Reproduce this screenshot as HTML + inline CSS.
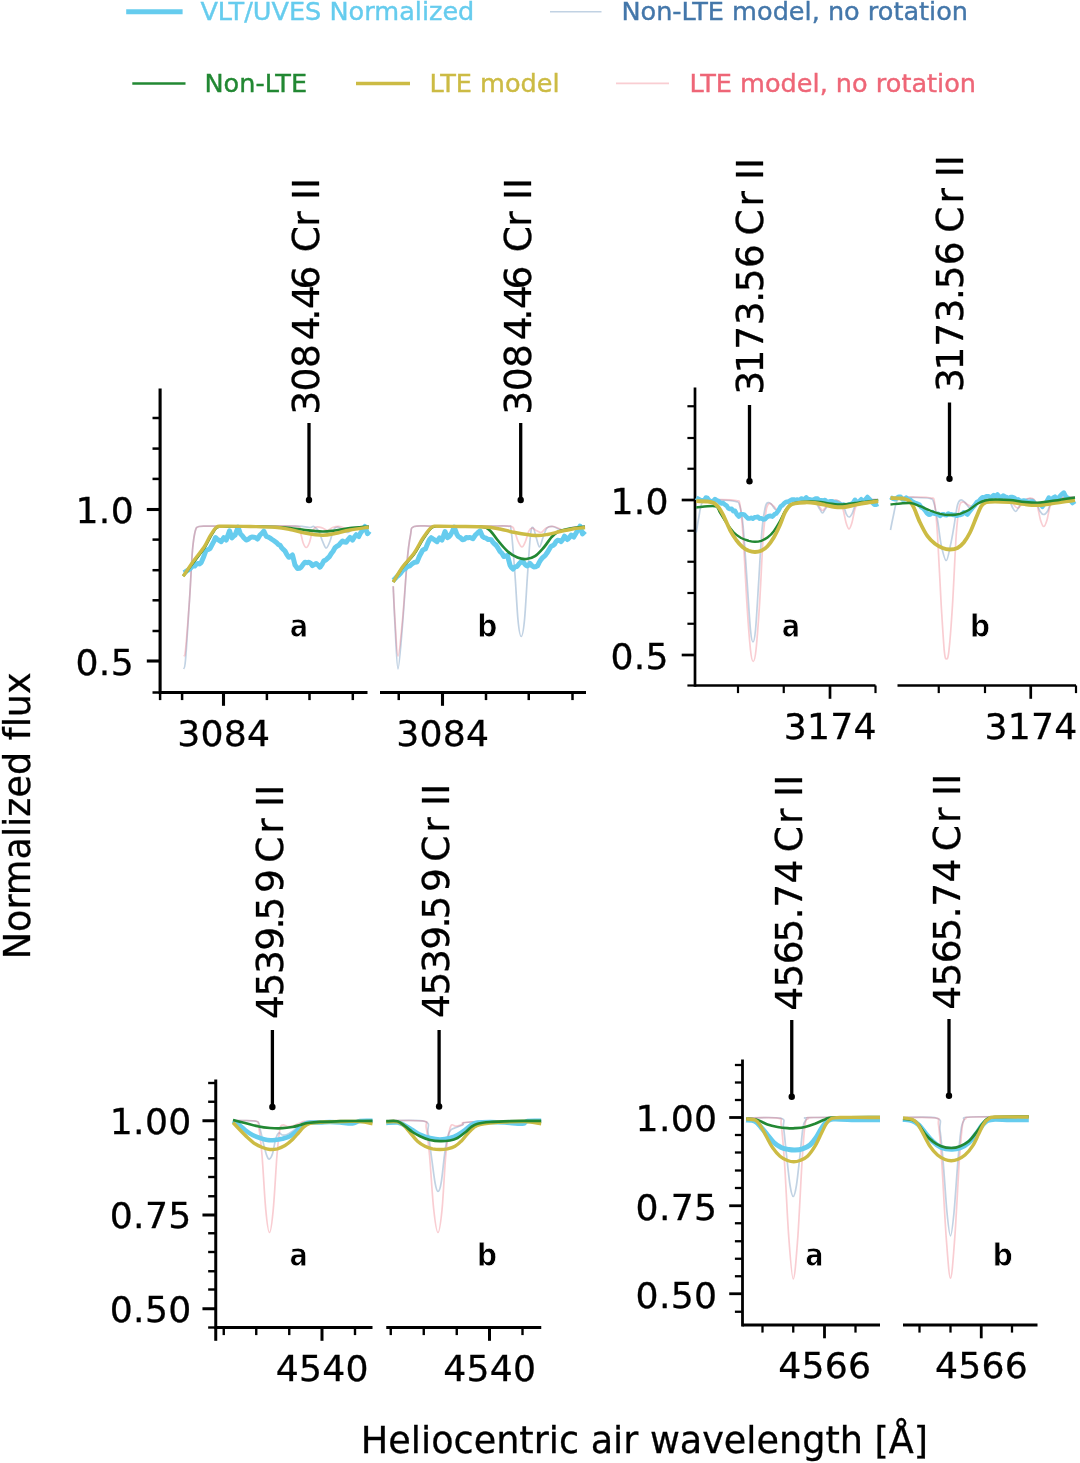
<!DOCTYPE html>
<html lang="en"><head><meta charset="utf-8"><title>Cr II line fits</title>
<style>html,body{margin:0;padding:0;background:#fff}svg{display:block}text{font-variant-ligatures:none}</style>
</head><body>
<svg width="1080" height="1463" viewBox="0 0 1080 1463">
<rect width="1080" height="1463" fill="#fff"/>
<line x1="126.20" y1="11.80" x2="182.60" y2="11.80" stroke="#66CCEE" stroke-width="5" stroke-linecap="butt"/>
<text x="200.40" y="20.00" font-family="DejaVu Sans, Liberation Sans, sans-serif" font-size="25.55" fill="#66CCEE" stroke="#66CCEE" stroke-width="0.4" text-anchor="start">VLT/UVES Normalized</text>
<line x1="550" y1="11.8" x2="601.5" y2="11.8" stroke="#4477AA" stroke-width="1.6" stroke-opacity="0.33"/>
<text x="621.40" y="20.00" font-family="DejaVu Sans, Liberation Sans, sans-serif" font-size="25.55" fill="#4477AA" stroke="#4477AA" stroke-width="0.4" text-anchor="start">Non-LTE model, no rotation</text>
<line x1="132.30" y1="83.40" x2="185.50" y2="83.40" stroke="#228833" stroke-width="2.5" stroke-linecap="butt"/>
<text x="204.50" y="92.00" font-family="DejaVu Sans, Liberation Sans, sans-serif" font-size="25.55" fill="#228833" stroke="#228833" stroke-width="0.4" text-anchor="start">Non-LTE</text>
<line x1="356.00" y1="83.40" x2="410.00" y2="83.40" stroke="#CCBB44" stroke-width="3.5" stroke-linecap="butt"/>
<text x="429.50" y="92.00" font-family="DejaVu Sans, Liberation Sans, sans-serif" font-size="25.55" fill="#CCBB44" stroke="#CCBB44" stroke-width="0.4" text-anchor="start">LTE model</text>
<line x1="616" y1="83.4" x2="669" y2="83.4" stroke="#EE6677" stroke-width="1.6" stroke-opacity="0.33"/>
<text x="689.50" y="92.00" font-family="DejaVu Sans, Liberation Sans, sans-serif" font-size="25.55" fill="#EE6677" stroke="#EE6677" stroke-width="0.4" text-anchor="start">LTE model, no rotation</text>
<text x="30.40" y="815.80" font-family="DejaVu Sans, Liberation Sans, sans-serif" font-size="36.6" fill="#000" stroke="#000" stroke-width="0.3" text-anchor="middle" transform="rotate(-90 30.40 815.80)">Normalized flux</text>
<text x="644.50" y="1452.50" font-family="DejaVu Sans, Liberation Sans, sans-serif" font-size="36.6" fill="#000" stroke="#000" stroke-width="0.3" text-anchor="middle">Heliocentric air wavelength [Å]</text>
<line x1="160.10" y1="388.40" x2="160.10" y2="694.05" stroke="#000" stroke-width="3.1" stroke-linecap="butt"/>
<line x1="146.80" y1="509.50" x2="160.10" y2="509.50" stroke="#000" stroke-width="3.1" stroke-linecap="butt"/>
<line x1="146.80" y1="661.00" x2="160.10" y2="661.00" stroke="#000" stroke-width="3.1" stroke-linecap="butt"/>
<line x1="152.50" y1="418.00" x2="160.10" y2="418.00" stroke="#000" stroke-width="2.5" stroke-linecap="butt"/>
<line x1="152.50" y1="448.60" x2="160.10" y2="448.60" stroke="#000" stroke-width="2.5" stroke-linecap="butt"/>
<line x1="152.50" y1="478.90" x2="160.10" y2="478.90" stroke="#000" stroke-width="2.5" stroke-linecap="butt"/>
<line x1="152.50" y1="539.60" x2="160.10" y2="539.60" stroke="#000" stroke-width="2.5" stroke-linecap="butt"/>
<line x1="152.50" y1="570.20" x2="160.10" y2="570.20" stroke="#000" stroke-width="2.5" stroke-linecap="butt"/>
<line x1="152.50" y1="600.30" x2="160.10" y2="600.30" stroke="#000" stroke-width="2.5" stroke-linecap="butt"/>
<line x1="152.50" y1="631.00" x2="160.10" y2="631.00" stroke="#000" stroke-width="2.5" stroke-linecap="butt"/>
<line x1="152.50" y1="692.50" x2="160.10" y2="692.50" stroke="#000" stroke-width="2.5" stroke-linecap="butt"/>
<text x="134.00" y="523.30" font-family="DejaVu Sans, Liberation Sans, sans-serif" font-size="36.2" fill="#000" stroke="#000" stroke-width="0.3" text-anchor="end" letter-spacing="0.3">1.0</text>
<text x="134.00" y="674.80" font-family="DejaVu Sans, Liberation Sans, sans-serif" font-size="36.2" fill="#000" stroke="#000" stroke-width="0.3" text-anchor="end" letter-spacing="0.3">0.5</text>
<line x1="160.10" y1="692.50" x2="367.50" y2="692.50" stroke="#000" stroke-width="3.1" stroke-linecap="butt"/>
<line x1="223.50" y1="692.50" x2="223.50" y2="705.80" stroke="#000" stroke-width="3.1" stroke-linecap="butt"/>
<line x1="160.10" y1="692.50" x2="160.10" y2="700.10" stroke="#000" stroke-width="2.5" stroke-linecap="butt"/>
<line x1="182.10" y1="692.50" x2="182.10" y2="700.10" stroke="#000" stroke-width="2.5" stroke-linecap="butt"/>
<line x1="266.90" y1="692.50" x2="266.90" y2="700.10" stroke="#000" stroke-width="2.5" stroke-linecap="butt"/>
<line x1="309.50" y1="692.50" x2="309.50" y2="700.10" stroke="#000" stroke-width="2.5" stroke-linecap="butt"/>
<line x1="352.80" y1="692.50" x2="352.80" y2="700.10" stroke="#000" stroke-width="2.5" stroke-linecap="butt"/>
<text x="223.80" y="745.80" font-family="DejaVu Sans, Liberation Sans, sans-serif" font-size="36.2" fill="#000" stroke="#000" stroke-width="0.3" text-anchor="middle" letter-spacing="0.3">3084</text>
<line x1="380.00" y1="692.50" x2="586.00" y2="692.50" stroke="#000" stroke-width="3.1" stroke-linecap="butt"/>
<line x1="442.50" y1="692.50" x2="442.50" y2="705.80" stroke="#000" stroke-width="3.1" stroke-linecap="butt"/>
<line x1="398.75" y1="692.50" x2="398.75" y2="700.10" stroke="#000" stroke-width="2.5" stroke-linecap="butt"/>
<line x1="486.00" y1="692.50" x2="486.00" y2="700.10" stroke="#000" stroke-width="2.5" stroke-linecap="butt"/>
<line x1="528.75" y1="692.50" x2="528.75" y2="700.10" stroke="#000" stroke-width="2.5" stroke-linecap="butt"/>
<line x1="572.50" y1="692.50" x2="572.50" y2="700.10" stroke="#000" stroke-width="2.5" stroke-linecap="butt"/>
<text x="442.80" y="745.80" font-family="DejaVu Sans, Liberation Sans, sans-serif" font-size="36.2" fill="#000" stroke="#000" stroke-width="0.3" text-anchor="middle" letter-spacing="0.3">3084</text>
<path d="M183.8,668.8 C184.0,667.3 184.5,671.5 185.5,660.0 C186.5,648.5 188.3,618.3 189.5,600.0 C190.7,581.7 191.5,561.5 192.5,550.0 C193.5,538.5 194.2,535.2 195.2,531.2 C196.3,527.3 196.1,527.3 199.0,526.5 C201.9,525.7 204.0,526.3 212.5,526.2 C221.0,526.2 236.0,526.2 250.0,526.2 C264.0,526.2 286.2,526.0 296.2,526.2 C306.2,526.5 307.1,527.5 310.0,527.5 C312.9,527.5 312.3,525.9 313.8,526.5 C315.2,527.1 317.3,528.8 318.8,531.2 C320.2,533.7 321.2,538.5 322.5,541.2 C323.8,544.0 325.0,548.0 326.2,548.0 C327.5,548.0 328.8,544.3 330.0,541.2 C331.2,538.2 332.5,531.9 333.8,529.5 C335.0,527.1 336.0,527.0 337.5,527.0 C339.0,527.0 340.8,528.6 342.5,529.5 C344.2,530.4 345.8,532.5 347.5,532.5 C349.2,532.5 350.4,530.4 352.5,529.5 C354.6,528.6 357.3,527.5 360.0,527.0 C362.7,526.5 367.3,526.4 368.8,526.2" fill="none" stroke="#4477AA" stroke-width="1.7" stroke-opacity="0.33" stroke-linejoin="round" stroke-linecap="butt"/>
<path d="M183.8,656.2 C184.0,655.2 184.5,659.4 185.5,650.0 C186.5,640.6 188.3,616.7 189.5,600.0 C190.7,583.3 191.5,561.5 192.5,550.0 C193.5,538.5 194.2,535.2 195.2,531.2 C196.3,527.3 196.1,527.3 199.0,526.5 C201.9,525.7 204.0,526.3 212.5,526.2 C221.0,526.2 236.2,526.2 250.0,526.2 C263.8,526.2 286.7,525.4 295.0,526.2 C303.3,527.1 298.7,528.5 300.0,531.2 C301.3,534.0 302.0,539.8 303.0,542.5 C304.0,545.2 305.2,547.5 306.2,547.5 C307.3,547.5 308.5,545.2 309.5,542.5 C310.5,539.8 311.4,533.8 312.5,531.2 C313.6,528.7 314.6,527.5 316.2,527.0 C317.9,526.5 320.6,527.4 322.5,528.0 C324.4,528.6 325.8,530.6 327.5,530.5 C329.2,530.4 330.4,528.2 332.5,527.5 C334.6,526.8 337.5,526.2 340.0,526.5 C342.5,526.8 345.4,529.2 347.5,529.5 C349.6,529.8 350.4,528.4 352.5,528.0 C354.6,527.6 357.3,527.3 360.0,527.0 C362.7,526.7 367.3,526.4 368.8,526.2" fill="none" stroke="#EE6677" stroke-width="1.7" stroke-opacity="0.33" stroke-linejoin="round" stroke-linecap="butt"/>
<path d="M183.8,572.8 L185.3,572.0 L186.9,570.7 L188.4,570.0 L190.0,568.8 L191.6,567.1 L193.1,565.9 L194.7,566.0 L196.2,564.3 L197.9,563.5 L199.6,563.9 L201.2,562.5 L203.8,556.5 L206.2,550.0 L208.1,549.6 L210.0,548.5 L212.5,543.8 L214.0,541.1 L215.5,537.5 L217.1,539.1 L218.8,540.1 L221.2,541.7 L223.8,537.7 L226.2,540.1 L227.9,535.3 L229.5,530.9 L232.0,537.8 L233.5,536.2 L235.0,535.2 L236.5,531.5 L238.0,527.1 L240.5,534.0 L242.1,535.5 L243.8,537.7 L246.2,540.0 L248.1,539.4 L250.0,537.8 L251.9,536.9 L253.8,537.2 L255.6,537.7 L257.5,539.1 L260.0,535.0 L261.9,533.3 L263.8,531.1 L266.2,536.3 L268.1,537.0 L270.0,537.9 L271.7,539.2 L273.3,540.3 L275.0,541.5 L276.7,542.8 L278.3,544.4 L280.0,545.2 L281.7,547.8 L283.3,549.4 L285.0,551.0 L286.9,554.6 L288.8,557.3 L290.6,556.6 L292.5,555.0 L295.0,565.1 L297.5,568.5 L299.4,568.3 L301.2,567.1 L303.1,564.4 L305.0,562.2 L306.9,562.7 L308.8,562.3 L310.6,563.2 L312.5,565.7 L314.4,564.5 L316.2,563.5 L318.1,565.1 L320.0,567.2 L321.9,564.6 L323.8,560.9 L325.6,560.2 L327.5,558.4 L329.4,556.6 L331.2,553.6 L333.1,551.2 L335.0,547.8 L336.9,546.3 L338.8,545.3 L340.6,542.9 L342.5,541.0 L344.4,542.0 L346.2,542.2 L348.1,539.6 L350.0,537.4 L352.5,540.1 L354.4,537.0 L356.2,534.7 L358.8,536.5 L360.6,532.9 L362.5,530.3 L365.0,526.5 L367.5,533.7 L369.5,531.2" fill="none" stroke="#66CCEE" stroke-width="5.0" stroke-linejoin="round" stroke-linecap="butt"/>
<path d="M183.2,576.2 C184.8,574.2 189.1,568.3 192.5,563.8 C195.9,559.2 200.8,553.1 203.8,548.8 C206.7,544.4 207.9,541.0 210.0,537.5 C212.1,534.0 214.2,529.8 216.2,528.0 C218.3,526.2 216.9,526.8 222.5,526.5 C228.1,526.2 241.2,526.4 250.0,526.5 C258.8,526.6 268.3,526.8 275.0,527.0 C281.7,527.2 285.0,527.5 290.0,528.0 C295.0,528.5 299.6,529.4 305.0,530.0 C310.4,530.6 317.5,531.4 322.5,531.5 C327.5,531.6 330.4,531.0 335.0,530.5 C339.6,530.0 344.4,528.9 350.0,528.2 C355.6,527.6 365.6,526.8 368.8,526.5" fill="none" stroke="#228833" stroke-width="2.7" stroke-linejoin="round" stroke-linecap="butt"/>
<path d="M183.2,576.2 C184.8,574.0 189.1,567.3 192.5,562.5 C195.9,557.7 200.8,551.9 203.8,547.5 C206.7,543.1 207.9,539.6 210.0,536.2 C212.1,532.9 214.2,529.2 216.2,527.5 C218.3,525.8 216.9,526.4 222.5,526.2 C228.1,526.1 241.2,526.3 250.0,526.5 C258.8,526.7 268.3,526.8 275.0,527.2 C281.7,527.8 285.0,528.5 290.0,529.5 C295.0,530.5 299.6,532.0 305.0,533.0 C310.4,534.0 317.5,535.2 322.5,535.2 C327.5,535.3 330.4,534.4 335.0,533.5 C339.6,532.6 344.4,531.0 350.0,530.0 C355.6,529.0 365.6,527.7 368.8,527.2" fill="none" stroke="#CCBB44" stroke-width="3.4" stroke-linejoin="round" stroke-linecap="butt"/>
<line x1="309.00" y1="423.00" x2="309.00" y2="500.00" stroke="#000" stroke-width="3.3" stroke-linecap="butt"/>
<circle cx="309.00" cy="500.00" r="3.2" fill="#000"/>
<text x="319.30 342.73 366.16 393.80 413.63 425.09 444.62 469.35 481.82 507.38 522.54 534.20 545.11" y="414.80" font-family="DejaVu Sans, Liberation Sans, sans-serif" font-size="37.6" fill="#000" stroke="#000" stroke-width="0.3" transform="rotate(-90 319.30 414.80)">3084.46 Cr II</text>
<text transform="translate(299.00 637.30) scale(0.97 1)" font-family="DejaVu Sans Condensed, DejaVu Sans, Liberation Sans, sans-serif" font-weight="bold" font-size="31.3" fill="#000" stroke="#fff" stroke-width="0.8" text-anchor="middle">a</text>
<path d="M393.2,586.2 C393.5,592.7 394.2,611.2 395.0,625.0 C395.8,638.8 396.8,668.8 398.0,668.8 C399.2,668.8 401.0,642.7 402.5,625.0 C404.0,607.3 405.7,577.5 407.0,562.5 C408.3,547.5 409.3,541.0 410.5,535.0 C411.7,529.0 410.2,528.0 414.2,526.5 C418.3,525.0 423.2,526.3 435.0,526.2 C446.8,526.2 472.9,526.2 485.0,526.2 C497.1,526.2 503.1,525.4 507.5,526.2 C511.9,527.1 510.0,523.1 511.2,531.2 C512.5,539.4 513.9,560.2 515.0,575.0 C516.1,589.8 517.0,609.8 518.0,620.0 C519.0,630.2 520.2,636.5 521.2,636.5 C522.3,636.5 523.5,630.2 524.5,620.0 C525.5,609.8 526.5,589.2 527.5,575.0 C528.5,560.8 529.6,542.9 530.5,535.0 C531.4,527.1 532.0,527.1 533.0,527.5 C534.0,527.9 535.2,534.2 536.2,537.5 C537.3,540.8 538.4,547.0 539.5,547.0 C540.6,547.0 541.8,540.7 543.0,537.5 C544.2,534.3 545.4,529.8 547.0,528.0 C548.6,526.2 550.3,526.2 552.5,526.5 C554.7,526.8 557.9,528.7 560.0,529.5 C562.1,530.3 563.1,531.6 565.0,531.2 C566.9,530.9 567.9,528.3 571.2,527.5 C574.6,526.7 582.7,526.5 585.0,526.2" fill="none" stroke="#4477AA" stroke-width="1.7" stroke-opacity="0.33" stroke-linejoin="round" stroke-linecap="butt"/>
<path d="M393.2,586.2 C393.5,591.9 394.2,608.3 395.0,620.0 C395.8,631.7 396.8,656.2 398.0,656.2 C399.2,656.2 401.0,635.6 402.5,620.0 C404.0,604.4 405.7,576.7 407.0,562.5 C408.3,548.3 409.3,541.0 410.5,535.0 C411.7,529.0 410.2,528.0 414.2,526.5 C418.3,525.0 423.2,526.3 435.0,526.2 C446.8,526.2 472.5,526.2 485.0,526.2 C497.5,526.2 505.1,525.4 510.0,526.2 C514.9,527.1 513.2,528.8 514.5,531.2 C515.8,533.8 516.8,538.6 518.0,541.2 C519.2,543.9 520.8,547.0 522.0,547.0 C523.2,547.0 524.4,543.9 525.5,541.2 C526.6,538.6 527.7,533.5 528.8,531.2 C529.8,529.0 530.8,528.1 532.0,528.0 C533.2,527.9 534.7,529.8 536.2,530.5 C537.8,531.2 539.6,532.9 541.2,532.5 C542.9,532.1 544.2,529.0 546.2,528.0 C548.3,527.0 551.2,526.2 553.8,526.5 C556.2,526.8 559.2,528.7 561.2,529.5 C563.3,530.3 564.4,531.6 566.2,531.2 C568.1,530.9 569.4,528.3 572.5,527.5 C575.6,526.7 582.9,526.5 585.0,526.2" fill="none" stroke="#EE6677" stroke-width="1.7" stroke-opacity="0.33" stroke-linejoin="round" stroke-linecap="butt"/>
<path d="M393.2,580.3 L395.1,578.7 L396.9,576.7 L398.8,575.1 L400.3,573.6 L401.9,571.3 L403.4,569.6 L405.0,569.0 L406.7,567.3 L408.3,566.2 L410.0,565.8 L411.9,564.0 L413.8,562.7 L415.4,562.2 L417.0,562.1 L419.5,556.0 L421.0,553.3 L422.5,550.3 L424.0,549.4 L425.5,548.9 L428.0,542.6 L429.6,539.4 L431.2,537.7 L432.9,538.9 L434.5,539.9 L437.0,541.7 L439.5,537.8 L442.0,540.0 L443.5,535.9 L445.0,531.5 L447.5,537.6 L449.0,536.8 L450.5,534.9 L452.4,531.4 L454.2,527.0 L456.8,534.1 L458.1,536.2 L459.5,537.2 L461.0,538.2 L462.5,539.8 L464.4,539.4 L466.2,537.5 L468.1,537.7 L470.0,537.4 L471.5,538.1 L473.0,538.7 L475.5,534.9 L477.0,533.6 L478.5,532.1 L480.0,530.8 L482.5,536.4 L484.4,537.7 L486.2,538.2 L487.9,539.4 L489.6,539.6 L491.2,539.8 L492.9,542.2 L494.6,544.0 L496.2,545.3 L498.1,548.2 L500.0,551.4 L501.9,553.3 L503.8,556.5 L505.6,556.0 L507.5,555.3 L510.0,565.2 L511.5,567.6 L513.0,569.1 L515.0,566.9 L517.0,566.5 L518.8,564.2 L520.5,562.3 L522.1,562.2 L523.8,562.7 L525.4,564.9 L527.0,565.9 L528.5,565.2 L530.0,563.4 L531.9,565.7 L533.8,566.9 L535.6,566.8 L537.5,565.8 L539.0,562.8 L540.5,560.3 L542.1,558.2 L543.8,556.7 L545.6,554.9 L547.5,552.2 L549.4,549.0 L551.2,546.2 L552.9,545.5 L554.5,544.3 L556.0,541.6 L557.5,540.3 L559.4,540.4 L561.2,541.6 L562.9,539.3 L564.5,536.2 L566.0,537.8 L567.5,539.5 L569.4,537.5 L571.2,535.1 L573.8,537.0 L575.4,534.3 L577.0,531.6 L578.5,528.8 L580.0,526.2 L582.5,533.9 L585.0,531.2" fill="none" stroke="#66CCEE" stroke-width="5.0" stroke-linejoin="round" stroke-linecap="butt"/>
<path d="M393.2,582.0 C394.8,579.6 399.1,572.1 402.5,567.5 C405.9,562.9 410.4,559.1 413.8,554.5 C417.1,549.9 419.6,544.4 422.5,540.0 C425.4,535.6 428.8,530.2 431.2,528.0 C433.8,525.8 432.7,526.8 437.5,526.5 C442.3,526.2 452.5,526.4 460.0,526.5 C467.5,526.6 477.5,526.3 482.5,527.0 C487.5,527.7 487.5,528.3 490.0,530.5 C492.5,532.7 494.6,536.5 497.5,540.0 C500.4,543.5 504.2,548.3 507.5,551.2 C510.8,554.2 514.4,556.2 517.5,557.5 C520.6,558.8 523.3,559.2 526.2,559.0 C529.2,558.8 532.1,558.2 535.0,556.2 C537.9,554.3 541.0,550.6 543.8,547.5 C546.5,544.4 549.0,540.1 551.2,537.5 C553.5,534.9 554.8,533.4 557.5,532.0 C560.2,530.6 562.9,529.9 567.5,529.0 C572.1,528.1 582.1,527.1 585.0,526.8" fill="none" stroke="#228833" stroke-width="2.7" stroke-linejoin="round" stroke-linecap="butt"/>
<path d="M393.2,582.0 C394.8,579.5 399.1,571.8 402.5,567.0 C405.9,562.2 410.4,558.2 413.8,553.5 C417.1,548.8 419.6,543.1 422.5,538.8 C425.4,534.4 428.8,529.6 431.2,527.5 C433.8,525.4 432.7,526.4 437.5,526.2 C442.3,526.1 452.1,526.4 460.0,526.5 C467.9,526.6 478.3,526.6 485.0,527.0 C491.7,527.4 495.0,528.1 500.0,529.0 C505.0,529.9 509.2,531.4 515.0,532.5 C520.8,533.6 529.6,535.2 535.0,535.5 C540.4,535.8 543.3,535.2 547.5,534.5 C551.7,533.8 555.8,532.4 560.0,531.5 C564.2,530.6 568.3,529.7 572.5,529.0 C576.7,528.3 582.9,527.8 585.0,527.5" fill="none" stroke="#CCBB44" stroke-width="3.4" stroke-linejoin="round" stroke-linecap="butt"/>
<line x1="520.70" y1="423.00" x2="520.70" y2="500.00" stroke="#000" stroke-width="3.3" stroke-linecap="butt"/>
<circle cx="520.70" cy="500.00" r="3.2" fill="#000"/>
<text x="531.40 554.83 578.26 605.90 625.73 637.19 656.72 681.45 693.92 719.48 734.64 746.30 757.21" y="414.80" font-family="DejaVu Sans, Liberation Sans, sans-serif" font-size="37.6" fill="#000" stroke="#000" stroke-width="0.3" transform="rotate(-90 531.40 414.80)">3084.46 Cr II</text>
<text transform="translate(487.30 637.10) scale(0.98 1)" font-family="DejaVu Sans Condensed, DejaVu Sans, Liberation Sans, sans-serif" font-weight="bold" font-size="32.3" fill="#000" stroke="#fff" stroke-width="0.8" text-anchor="middle">b</text>
<line x1="695.00" y1="387.50" x2="695.00" y2="686.85" stroke="#000" stroke-width="2.7" stroke-linecap="butt"/>
<line x1="681.70" y1="500.00" x2="695.00" y2="500.00" stroke="#000" stroke-width="2.7" stroke-linecap="butt"/>
<line x1="681.70" y1="655.00" x2="695.00" y2="655.00" stroke="#000" stroke-width="2.7" stroke-linecap="butt"/>
<line x1="687.40" y1="406.25" x2="695.00" y2="406.25" stroke="#000" stroke-width="2.2" stroke-linecap="butt"/>
<line x1="687.40" y1="438.00" x2="695.00" y2="438.00" stroke="#000" stroke-width="2.2" stroke-linecap="butt"/>
<line x1="687.40" y1="468.75" x2="695.00" y2="468.75" stroke="#000" stroke-width="2.2" stroke-linecap="butt"/>
<line x1="687.40" y1="530.75" x2="695.00" y2="530.75" stroke="#000" stroke-width="2.2" stroke-linecap="butt"/>
<line x1="687.40" y1="561.75" x2="695.00" y2="561.75" stroke="#000" stroke-width="2.2" stroke-linecap="butt"/>
<line x1="687.40" y1="593.00" x2="695.00" y2="593.00" stroke="#000" stroke-width="2.2" stroke-linecap="butt"/>
<line x1="687.40" y1="623.75" x2="695.00" y2="623.75" stroke="#000" stroke-width="2.2" stroke-linecap="butt"/>
<line x1="687.40" y1="685.50" x2="695.00" y2="685.50" stroke="#000" stroke-width="2.2" stroke-linecap="butt"/>
<text x="668.90" y="513.80" font-family="DejaVu Sans, Liberation Sans, sans-serif" font-size="36.2" fill="#000" stroke="#000" stroke-width="0.3" text-anchor="end" letter-spacing="0.3">1.0</text>
<text x="668.90" y="668.80" font-family="DejaVu Sans, Liberation Sans, sans-serif" font-size="36.2" fill="#000" stroke="#000" stroke-width="0.3" text-anchor="end" letter-spacing="0.3">0.5</text>
<line x1="695.00" y1="685.50" x2="875.50" y2="685.50" stroke="#000" stroke-width="2.7" stroke-linecap="butt"/>
<line x1="830.00" y1="685.50" x2="830.00" y2="698.80" stroke="#000" stroke-width="2.7" stroke-linecap="butt"/>
<line x1="738.00" y1="685.50" x2="738.00" y2="693.10" stroke="#000" stroke-width="2.2" stroke-linecap="butt"/>
<line x1="783.75" y1="685.50" x2="783.75" y2="693.10" stroke="#000" stroke-width="2.2" stroke-linecap="butt"/>
<line x1="875.50" y1="685.50" x2="875.50" y2="693.10" stroke="#000" stroke-width="2.2" stroke-linecap="butt"/>
<text x="830.30" y="738.80" font-family="DejaVu Sans, Liberation Sans, sans-serif" font-size="36.2" fill="#000" stroke="#000" stroke-width="0.3" text-anchor="middle" letter-spacing="0.3">3174</text>
<line x1="897.50" y1="685.50" x2="1076.00" y2="685.50" stroke="#000" stroke-width="2.7" stroke-linecap="butt"/>
<line x1="1030.75" y1="685.50" x2="1030.75" y2="698.80" stroke="#000" stroke-width="2.7" stroke-linecap="butt"/>
<line x1="938.75" y1="685.50" x2="938.75" y2="693.10" stroke="#000" stroke-width="2.2" stroke-linecap="butt"/>
<line x1="985.00" y1="685.50" x2="985.00" y2="693.10" stroke="#000" stroke-width="2.2" stroke-linecap="butt"/>
<line x1="1076.00" y1="685.50" x2="1076.00" y2="693.10" stroke="#000" stroke-width="2.2" stroke-linecap="butt"/>
<text x="1031.05" y="738.80" font-family="DejaVu Sans, Liberation Sans, sans-serif" font-size="36.2" fill="#000" stroke="#000" stroke-width="0.3" text-anchor="middle" letter-spacing="0.3">3174</text>
<path d="M696.2,532.5 C696.7,530.0 697.9,522.1 698.8,517.5 C699.6,512.9 700.2,507.8 701.2,505.0 C702.3,502.2 701.9,501.3 705.0,500.5 C708.1,499.7 714.9,499.8 720.0,500.0 C725.1,500.2 732.2,500.7 735.5,501.5 C738.8,502.3 738.2,501.1 739.5,505.0 C740.8,508.9 741.8,512.5 743.0,525.0 C744.2,537.5 745.8,562.5 747.0,580.0 C748.2,597.5 749.5,619.7 750.5,630.0 C751.5,640.3 752.2,642.0 753.0,642.0 C753.8,642.0 754.5,640.3 755.5,630.0 C756.5,619.7 757.7,596.7 758.8,580.0 C759.8,563.3 760.9,542.3 762.0,530.0 C763.1,517.7 764.4,510.8 765.5,506.2 C766.6,501.7 767.7,502.7 768.8,502.5 C769.8,502.3 770.8,503.8 772.0,505.0 C773.2,506.2 774.7,510.0 776.2,510.0 C777.8,510.0 779.4,506.6 781.2,505.0 C783.1,503.4 783.5,501.3 787.5,500.5 C791.5,499.7 800.4,499.8 805.0,500.0 C809.6,500.2 812.6,500.5 815.0,502.0 C817.4,503.5 818.2,506.9 819.5,508.8 C820.8,510.6 821.5,513.0 822.5,513.0 C823.5,513.0 824.2,510.5 825.5,508.8 C826.8,507.0 828.0,503.9 830.0,502.5 C832.0,501.1 835.3,500.1 837.5,500.5 C839.7,500.9 841.5,502.8 843.0,505.0 C844.5,507.2 845.2,511.8 846.2,513.8 C847.2,515.8 848.0,517.0 849.0,517.0 C850.0,517.0 850.9,515.8 852.0,513.8 C853.1,511.8 854.0,507.2 855.5,505.0 C857.0,502.8 857.5,501.4 861.2,500.5 C865.0,499.6 875.4,499.7 878.2,499.5" fill="none" stroke="#4477AA" stroke-width="1.7" stroke-opacity="0.33" stroke-linejoin="round" stroke-linecap="butt"/>
<path d="M696.2,500.0 C700.2,499.9 713.3,499.4 720.0,499.5 C726.7,499.6 732.9,499.6 736.2,500.5 C739.6,501.4 738.9,499.2 740.0,505.0 C741.1,510.8 741.8,518.3 743.0,535.0 C744.2,551.7 745.8,585.8 747.0,605.0 C748.2,624.2 749.5,640.6 750.5,650.0 C751.5,659.4 752.3,661.5 753.2,661.5 C754.2,661.5 755.0,659.4 756.0,650.0 C757.0,640.6 758.3,623.3 759.5,605.0 C760.7,586.7 761.9,555.8 763.0,540.0 C764.1,524.2 765.2,516.1 766.2,510.0 C767.3,503.9 768.2,504.1 769.5,503.5 C770.8,502.9 772.4,505.2 773.8,506.2 C775.1,507.3 776.1,510.2 777.5,510.0 C778.9,509.8 780.3,506.6 782.0,505.0 C783.7,503.4 783.7,501.3 787.5,500.5 C791.3,499.7 800.2,499.8 805.0,500.0 C809.8,500.2 813.8,500.8 816.2,502.0 C818.8,503.2 819.0,506.1 820.0,507.5 C821.0,508.9 821.6,510.5 822.5,510.5 C823.4,510.5 824.2,508.9 825.5,507.5 C826.8,506.1 828.0,503.2 830.0,502.0 C832.0,500.8 835.4,499.6 837.5,500.5 C839.6,501.4 841.1,503.8 842.5,507.5 C843.9,511.2 844.9,518.9 846.0,522.5 C847.1,526.1 848.0,529.0 849.0,529.0 C850.0,529.0 850.9,526.1 852.0,522.5 C853.1,518.9 854.0,511.2 855.5,507.5 C857.0,503.8 857.5,501.8 861.2,500.5 C865.0,499.2 875.4,499.7 878.2,499.5" fill="none" stroke="#EE6677" stroke-width="1.7" stroke-opacity="0.33" stroke-linejoin="round" stroke-linecap="butt"/>
<path d="M696.2,497.6 L697.8,498.7 L699.4,499.4 L700.9,500.3 L702.5,500.3 L704.2,500.3 L705.8,497.6 L707.5,498.0 L709.4,500.6 L711.2,501.4 L713.1,501.3 L715.0,499.1 L716.7,500.4 L718.3,500.9 L720.0,502.5 L721.7,503.5 L723.3,503.1 L725.0,504.7 L726.7,505.8 L728.3,508.4 L730.0,509.0 L731.7,508.8 L733.3,511.1 L735.0,510.9 L736.9,514.4 L738.8,516.6 L740.6,514.3 L742.5,514.2 L744.4,514.7 L746.2,516.7 L747.9,518.4 L749.6,518.5 L751.2,517.8 L752.9,518.7 L754.6,517.4 L756.2,517.2 L757.9,516.7 L759.6,518.6 L761.2,518.2 L763.1,519.4 L765.0,519.2 L766.9,517.1 L768.8,516.1 L770.6,515.9 L772.5,516.6 L774.4,514.4 L776.2,513.5 L778.8,510.1 L780.6,506.4 L782.5,505.2 L784.4,503.1 L786.2,501.8 L788.1,502.0 L790.0,500.5 L791.9,499.6 L793.8,499.5 L795.6,500.2 L797.5,499.5 L799.4,500.5 L801.2,498.5 L802.9,499.2 L804.6,499.1 L806.2,497.5 L808.1,499.4 L810.0,499.4 L811.9,499.9 L813.8,499.5 L815.6,498.5 L817.5,498.6 L819.4,500.8 L821.2,500.2 L823.1,500.6 L825.0,500.0 L826.9,501.7 L828.8,501.8 L830.6,501.3 L832.5,501.3 L834.4,502.7 L836.2,502.6 L838.1,503.9 L840.0,504.1 L841.9,505.2 L843.8,504.5 L845.6,506.2 L847.5,505.1 L849.4,504.3 L851.2,503.9 L853.1,502.8 L855.0,499.8 L857.5,503.0 L859.4,501.1 L861.2,499.3 L863.8,502.3 L865.6,499.3 L867.5,497.0 L870.0,499.6 L872.5,502.7 L874.4,504.8 L876.2,504.6 L878.2,503.8" fill="none" stroke="#66CCEE" stroke-width="4.6" stroke-linejoin="round" stroke-linecap="butt"/>
<path d="M696.2,507.5 C699.4,507.3 711.0,505.4 715.0,506.2 C719.0,507.1 718.1,509.8 720.0,512.5 C721.9,515.2 724.0,519.2 726.2,522.5 C728.5,525.8 731.2,529.9 733.8,532.5 C736.2,535.1 738.8,536.6 741.2,538.0 C743.8,539.4 746.5,540.1 748.8,540.8 C751.0,541.4 752.9,541.8 755.0,541.8 C757.1,541.8 759.2,541.5 761.2,540.8 C763.3,540.0 765.4,539.1 767.5,537.5 C769.6,535.9 771.7,534.0 773.8,531.2 C775.8,528.5 778.1,524.6 780.0,521.2 C781.9,517.9 783.3,514.0 785.0,511.2 C786.7,508.5 788.3,506.4 790.0,505.0 C791.7,503.6 791.7,503.6 795.0,503.0 C798.3,502.4 805.8,501.7 810.0,501.5 C814.2,501.3 815.8,501.5 820.0,502.0 C824.2,502.5 830.8,503.9 835.0,504.2 C839.2,504.6 841.7,504.5 845.0,504.2 C848.3,504.0 851.7,503.4 855.0,503.0 C858.3,502.6 861.1,502.2 865.0,501.8 C868.9,501.2 876.0,500.3 878.2,500.0" fill="none" stroke="#228833" stroke-width="2.4" stroke-linejoin="round" stroke-linecap="butt"/>
<path d="M696.2,501.2 C698.1,501.3 704.6,501.2 707.5,501.5 C710.4,501.8 711.9,502.0 713.8,503.0 C715.6,504.0 717.1,505.3 718.8,507.5 C720.4,509.7 721.9,512.5 723.8,516.2 C725.6,520.0 727.9,526.0 730.0,530.0 C732.1,534.0 734.2,537.2 736.2,540.0 C738.3,542.8 740.4,545.2 742.5,547.0 C744.6,548.8 746.7,549.9 748.8,550.8 C750.8,551.6 752.9,552.0 755.0,552.0 C757.1,552.0 759.2,551.7 761.2,550.8 C763.3,549.8 765.4,548.5 767.5,546.2 C769.6,544.0 771.7,541.0 773.8,537.5 C775.8,534.0 778.1,529.2 780.0,525.0 C781.9,520.8 783.3,515.8 785.0,512.5 C786.7,509.2 788.3,507.0 790.0,505.5 C791.7,504.0 792.5,504.0 795.0,503.5 C797.5,503.0 801.7,502.6 805.0,502.5 C808.3,502.4 811.7,502.6 815.0,503.0 C818.3,503.4 821.7,504.3 825.0,505.0 C828.3,505.7 831.7,506.7 835.0,507.0 C838.3,507.3 841.7,507.3 845.0,507.0 C848.3,506.7 851.7,505.7 855.0,505.0 C858.3,504.3 861.1,503.6 865.0,503.0 C868.9,502.4 876.0,501.5 878.2,501.2" fill="none" stroke="#CCBB44" stroke-width="3.8" stroke-linejoin="round" stroke-linecap="butt"/>
<line x1="749.50" y1="405.00" x2="749.50" y2="481.25" stroke="#000" stroke-width="3.3" stroke-linecap="butt"/>
<circle cx="749.50" cy="481.25" r="3.2" fill="#000"/>
<text transform="translate(791.00 637.10) scale(0.97 1)" font-family="DejaVu Sans Condensed, DejaVu Sans, Liberation Sans, sans-serif" font-weight="bold" font-size="31.3" fill="#000" stroke="#fff" stroke-width="0.8" text-anchor="middle">a</text>
<path d="M890.5,530.0 C890.9,527.9 892.0,522.0 893.0,517.5 C894.0,513.0 895.1,506.2 896.2,503.0 C897.4,499.8 896.9,498.9 900.0,498.0 C903.1,497.1 910.0,497.4 915.0,497.5 C920.0,497.6 926.9,497.7 930.0,498.5 C933.1,499.3 932.5,498.9 933.8,502.5 C935.0,506.1 936.2,512.9 937.5,520.0 C938.8,527.1 939.8,538.2 941.2,545.0 C942.7,551.8 944.7,560.5 946.2,560.5 C947.8,560.5 949.2,550.5 950.5,545.0 C951.8,539.5 952.6,534.2 953.8,527.5 C954.9,520.8 956.3,509.6 957.5,505.0 C958.7,500.4 959.5,500.4 960.8,500.0 C962.0,499.6 963.5,501.2 965.0,502.5 C966.5,503.8 968.3,508.0 970.0,508.0 C971.7,508.0 972.9,504.2 975.0,502.5 C977.1,500.8 978.3,498.8 982.5,498.0 C986.7,497.2 995.6,497.2 1000.0,497.5 C1004.4,497.8 1006.7,498.3 1008.8,500.0 C1010.8,501.7 1011.4,505.6 1012.5,507.5 C1013.6,509.4 1014.5,511.5 1015.5,511.5 C1016.5,511.5 1017.6,509.2 1018.8,507.5 C1019.9,505.8 1020.4,502.7 1022.5,501.2 C1024.6,499.8 1029.0,498.5 1031.2,498.8 C1033.5,499.0 1034.8,500.4 1036.2,502.5 C1037.7,504.6 1038.8,509.2 1040.0,511.2 C1041.2,513.2 1042.5,514.5 1043.8,514.5 C1045.0,514.5 1046.2,513.2 1047.5,511.2 C1048.8,509.2 1049.6,504.7 1051.2,502.5 C1052.9,500.3 1053.5,498.9 1057.5,498.0 C1061.5,497.1 1072.1,497.2 1075.0,497.0" fill="none" stroke="#4477AA" stroke-width="1.7" stroke-opacity="0.33" stroke-linejoin="round" stroke-linecap="butt"/>
<path d="M890.5,497.5 C894.6,497.4 908.2,496.9 915.0,497.0 C921.8,497.1 928.0,497.1 931.2,498.0 C934.5,498.9 933.5,496.3 934.5,502.5 C935.5,508.7 936.4,517.9 937.5,535.0 C938.6,552.1 940.1,585.8 941.2,605.0 C942.4,624.2 943.4,641.0 944.2,650.0 C945.1,659.0 945.7,659.0 946.5,659.0 C947.3,659.0 948.0,659.0 949.0,650.0 C950.0,641.0 951.3,624.2 952.5,605.0 C953.7,585.8 955.1,551.5 956.2,535.0 C957.4,518.5 958.4,511.8 959.5,506.2 C960.6,500.8 961.7,502.3 963.0,502.0 C964.3,501.7 965.9,503.8 967.5,504.5 C969.1,505.2 970.8,506.7 972.5,506.2 C974.2,505.8 975.4,503.4 977.5,502.0 C979.6,500.6 980.8,498.8 985.0,498.0 C989.2,497.2 998.1,497.0 1002.5,497.5 C1006.9,498.0 1009.2,499.8 1011.2,501.2 C1013.3,502.7 1013.9,505.1 1015.0,506.2 C1016.1,507.4 1017.0,508.2 1018.0,508.0 C1019.0,507.8 1020.1,506.3 1021.2,505.0 C1022.4,503.7 1023.1,501.1 1025.0,500.0 C1026.9,498.9 1030.5,497.7 1032.5,498.5 C1034.5,499.3 1035.7,501.4 1037.0,505.0 C1038.3,508.6 1039.4,516.4 1040.5,520.0 C1041.6,523.6 1042.7,526.5 1043.8,526.5 C1044.8,526.5 1045.9,523.6 1047.0,520.0 C1048.1,516.4 1049.0,508.6 1050.5,505.0 C1052.0,501.4 1052.2,499.8 1056.2,498.5 C1060.3,497.2 1071.9,497.2 1075.0,497.0" fill="none" stroke="#EE6677" stroke-width="1.7" stroke-opacity="0.33" stroke-linejoin="round" stroke-linecap="butt"/>
<path d="M890.5,497.1 L892.0,498.1 L893.5,498.8 L895.0,499.2 L896.9,498.0 L898.8,496.7 L900.6,496.8 L902.5,499.5 L904.4,499.5 L906.2,497.7 L908.1,499.6 L910.0,499.6 L911.9,501.2 L913.8,502.2 L915.6,503.2 L917.5,503.8 L919.4,504.6 L921.2,507.2 L923.1,508.3 L925.0,510.5 L926.9,513.1 L928.8,514.6 L930.6,514.4 L932.5,512.1 L934.4,513.8 L936.2,514.1 L938.1,513.9 L940.0,515.9 L941.7,514.5 L943.3,514.2 L945.0,515.0 L946.7,515.1 L948.3,513.5 L950.0,514.3 L951.7,514.3 L953.3,515.0 L955.0,514.7 L956.7,515.8 L958.3,515.1 L960.0,515.0 L961.9,514.4 L963.8,512.3 L965.6,513.4 L967.5,514.6 L969.4,511.7 L971.2,509.5 L973.1,507.1 L975.0,505.1 L976.9,502.0 L978.8,501.4 L980.6,499.0 L982.5,497.3 L984.4,497.6 L986.2,496.2 L988.1,496.2 L990.0,497.0 L991.9,496.7 L993.8,495.0 L995.6,496.3 L997.5,494.5 L999.4,496.5 L1001.2,497.4 L1003.1,495.6 L1005.0,496.6 L1006.9,497.2 L1008.8,498.8 L1010.6,497.0 L1012.5,497.0 L1014.4,497.8 L1016.2,500.0 L1018.1,499.3 L1020.0,500.8 L1021.9,501.2 L1023.8,500.5 L1025.6,500.9 L1027.5,502.3 L1029.4,501.9 L1031.2,501.6 L1033.1,501.6 L1035.0,504.0 L1036.9,504.8 L1038.8,504.9 L1040.6,504.4 L1042.5,506.7 L1044.4,503.5 L1046.2,502.3 L1048.8,497.6 L1051.2,500.5 L1053.1,497.8 L1055.0,496.7 L1057.5,499.5 L1059.4,496.8 L1061.2,494.8 L1063.8,492.6 L1066.2,497.0 L1068.1,498.0 L1070.0,500.2 L1072.5,503.0 L1075.0,501.2" fill="none" stroke="#66CCEE" stroke-width="4.6" stroke-linejoin="round" stroke-linecap="butt"/>
<path d="M890.5,498.0 C892.5,498.1 899.5,498.1 902.5,498.5 C905.5,498.9 906.9,499.0 908.8,500.5 C910.6,502.0 911.9,503.8 913.8,507.5 C915.6,511.2 917.7,517.7 920.0,522.5 C922.3,527.3 925.0,532.7 927.5,536.2 C930.0,539.8 932.5,541.8 935.0,543.8 C937.5,545.7 940.0,547.0 942.5,548.0 C945.0,549.0 947.5,549.5 950.0,549.5 C952.5,549.5 955.2,549.2 957.5,548.0 C959.8,546.8 961.7,545.1 963.8,542.5 C965.8,539.9 967.9,536.7 970.0,532.5 C972.1,528.3 974.4,521.9 976.2,517.5 C978.1,513.1 979.6,508.8 981.2,506.2 C982.9,503.7 984.0,503.0 986.2,502.2 C988.5,501.5 991.0,501.5 995.0,501.5 C999.0,501.5 1005.0,501.8 1010.0,502.2 C1015.0,502.7 1020.4,503.8 1025.0,504.2 C1029.6,504.8 1033.3,505.3 1037.5,505.2 C1041.7,505.2 1045.8,504.3 1050.0,503.8 C1054.2,503.2 1058.3,502.3 1062.5,501.8 C1066.7,501.2 1072.9,500.5 1075.0,500.2" fill="none" stroke="#CCBB44" stroke-width="3.8" stroke-linejoin="round" stroke-linecap="butt"/>
<path d="M890.5,504.5 C893.8,504.2 905.1,502.7 910.0,503.0 C914.9,503.3 916.7,505.0 920.0,506.2 C923.3,507.5 926.7,509.2 930.0,510.5 C933.3,511.8 936.7,513.0 940.0,513.8 C943.3,514.5 946.7,515.0 950.0,515.0 C953.3,515.0 956.9,514.6 960.0,513.8 C963.1,512.9 965.8,511.7 968.8,510.0 C971.7,508.3 974.8,505.3 977.5,503.8 C980.2,502.2 982.1,501.2 985.0,500.5 C987.9,499.8 990.8,499.6 995.0,499.5 C999.2,499.4 1005.0,499.6 1010.0,500.0 C1015.0,500.4 1020.0,501.6 1025.0,502.0 C1030.0,502.4 1035.0,502.8 1040.0,502.5 C1045.0,502.2 1049.2,501.3 1055.0,500.5 C1060.8,499.7 1071.7,498.0 1075.0,497.5" fill="none" stroke="#228833" stroke-width="2.4" stroke-linejoin="round" stroke-linecap="butt"/>
<line x1="949.50" y1="402.50" x2="949.50" y2="478.75" stroke="#000" stroke-width="3.3" stroke-linecap="butt"/>
<circle cx="949.50" cy="478.75" r="3.2" fill="#000"/>
<text transform="translate(980.00 637.10) scale(0.98 1)" font-family="DejaVu Sans Condensed, DejaVu Sans, Liberation Sans, sans-serif" font-weight="bold" font-size="32.3" fill="#000" stroke="#fff" stroke-width="0.8" text-anchor="middle">b</text>
<line x1="215.75" y1="1079.50" x2="215.75" y2="1329.00" stroke="#000" stroke-width="3.0" stroke-linecap="butt"/>
<line x1="202.45" y1="1120.75" x2="215.75" y2="1120.75" stroke="#000" stroke-width="3.0" stroke-linecap="butt"/>
<line x1="202.45" y1="1215.00" x2="215.75" y2="1215.00" stroke="#000" stroke-width="3.0" stroke-linecap="butt"/>
<line x1="202.45" y1="1308.75" x2="215.75" y2="1308.75" stroke="#000" stroke-width="3.0" stroke-linecap="butt"/>
<line x1="208.15" y1="1083.00" x2="215.75" y2="1083.00" stroke="#000" stroke-width="2.4" stroke-linecap="butt"/>
<line x1="208.15" y1="1101.75" x2="215.75" y2="1101.75" stroke="#000" stroke-width="2.4" stroke-linecap="butt"/>
<line x1="208.15" y1="1139.50" x2="215.75" y2="1139.50" stroke="#000" stroke-width="2.4" stroke-linecap="butt"/>
<line x1="208.15" y1="1158.25" x2="215.75" y2="1158.25" stroke="#000" stroke-width="2.4" stroke-linecap="butt"/>
<line x1="208.15" y1="1177.00" x2="215.75" y2="1177.00" stroke="#000" stroke-width="2.4" stroke-linecap="butt"/>
<line x1="208.15" y1="1196.25" x2="215.75" y2="1196.25" stroke="#000" stroke-width="2.4" stroke-linecap="butt"/>
<line x1="208.15" y1="1233.25" x2="215.75" y2="1233.25" stroke="#000" stroke-width="2.4" stroke-linecap="butt"/>
<line x1="208.15" y1="1252.00" x2="215.75" y2="1252.00" stroke="#000" stroke-width="2.4" stroke-linecap="butt"/>
<line x1="208.15" y1="1271.25" x2="215.75" y2="1271.25" stroke="#000" stroke-width="2.4" stroke-linecap="butt"/>
<line x1="208.15" y1="1289.50" x2="215.75" y2="1289.50" stroke="#000" stroke-width="2.4" stroke-linecap="butt"/>
<line x1="208.15" y1="1327.50" x2="215.75" y2="1327.50" stroke="#000" stroke-width="2.4" stroke-linecap="butt"/>
<text x="191.55" y="1133.55" font-family="DejaVu Sans, Liberation Sans, sans-serif" font-size="36.2" fill="#000" stroke="#000" stroke-width="0.3" text-anchor="end" letter-spacing="0.3">1.00</text>
<text x="191.55" y="1227.80" font-family="DejaVu Sans, Liberation Sans, sans-serif" font-size="36.2" fill="#000" stroke="#000" stroke-width="0.3" text-anchor="end" letter-spacing="0.3">0.75</text>
<text x="191.55" y="1321.55" font-family="DejaVu Sans, Liberation Sans, sans-serif" font-size="36.2" fill="#000" stroke="#000" stroke-width="0.3" text-anchor="end" letter-spacing="0.3">0.50</text>
<line x1="215.75" y1="1327.50" x2="372.50" y2="1327.50" stroke="#000" stroke-width="3.0" stroke-linecap="butt"/>
<line x1="215.75" y1="1327.50" x2="215.75" y2="1340.80" stroke="#000" stroke-width="3.0" stroke-linecap="butt"/>
<line x1="322.00" y1="1327.50" x2="322.00" y2="1340.80" stroke="#000" stroke-width="3.0" stroke-linecap="butt"/>
<line x1="223.75" y1="1327.50" x2="223.75" y2="1335.10" stroke="#000" stroke-width="2.4" stroke-linecap="butt"/>
<line x1="256.25" y1="1327.50" x2="256.25" y2="1335.10" stroke="#000" stroke-width="2.4" stroke-linecap="butt"/>
<line x1="289.25" y1="1327.50" x2="289.25" y2="1335.10" stroke="#000" stroke-width="2.4" stroke-linecap="butt"/>
<line x1="355.00" y1="1327.50" x2="355.00" y2="1335.10" stroke="#000" stroke-width="2.4" stroke-linecap="butt"/>
<text x="322.30" y="1380.80" font-family="DejaVu Sans, Liberation Sans, sans-serif" font-size="36.2" fill="#000" stroke="#000" stroke-width="0.3" text-anchor="middle" letter-spacing="0.3">4540</text>
<line x1="386.25" y1="1327.50" x2="541.25" y2="1327.50" stroke="#000" stroke-width="3.0" stroke-linecap="butt"/>
<line x1="489.50" y1="1327.50" x2="489.50" y2="1340.80" stroke="#000" stroke-width="3.0" stroke-linecap="butt"/>
<line x1="390.75" y1="1327.50" x2="390.75" y2="1335.10" stroke="#000" stroke-width="2.4" stroke-linecap="butt"/>
<line x1="423.75" y1="1327.50" x2="423.75" y2="1335.10" stroke="#000" stroke-width="2.4" stroke-linecap="butt"/>
<line x1="456.75" y1="1327.50" x2="456.75" y2="1335.10" stroke="#000" stroke-width="2.4" stroke-linecap="butt"/>
<line x1="522.50" y1="1327.50" x2="522.50" y2="1335.10" stroke="#000" stroke-width="2.4" stroke-linecap="butt"/>
<text x="489.80" y="1380.80" font-family="DejaVu Sans, Liberation Sans, sans-serif" font-size="36.2" fill="#000" stroke="#000" stroke-width="0.3" text-anchor="middle" letter-spacing="0.3">4540</text>
<path d="M233.0,1120.8 C236.9,1120.8 251.8,1119.9 256.2,1121.2 C260.8,1122.6 258.8,1124.8 260.0,1128.8 C261.2,1132.7 262.6,1140.4 263.8,1145.0 C264.9,1149.6 266.0,1153.9 267.0,1156.2 C268.0,1158.6 268.6,1159.4 269.5,1159.0 C270.4,1158.6 271.5,1157.1 272.5,1153.8 C273.5,1150.4 274.7,1142.2 275.8,1138.8 C276.8,1135.3 277.6,1133.6 278.8,1133.0 C279.9,1132.4 281.1,1134.8 282.5,1135.0 C283.9,1135.2 285.3,1135.1 287.0,1134.5 C288.7,1133.9 290.3,1132.8 292.5,1131.2 C294.7,1129.8 297.3,1127.0 300.0,1125.5 C302.7,1124.0 296.7,1122.8 308.8,1122.0 C320.8,1121.2 361.9,1121.0 372.5,1120.8" fill="none" stroke="#4477AA" stroke-width="1.7" stroke-opacity="0.33" stroke-linejoin="round" stroke-linecap="butt"/>
<path d="M233.0,1120.8 C236.8,1120.8 251.2,1119.9 255.5,1121.0 C259.8,1122.1 257.7,1121.8 258.8,1127.5 C259.8,1133.2 260.8,1141.2 262.0,1155.0 C263.2,1168.8 264.5,1197.1 265.8,1210.0 C267.0,1222.9 268.2,1232.5 269.5,1232.5 C270.8,1232.5 272.0,1222.9 273.2,1210.0 C274.5,1197.1 275.9,1168.5 277.0,1155.0 C278.1,1141.5 279.0,1133.8 280.0,1128.8 C281.0,1123.8 281.8,1125.4 283.0,1125.0 C284.2,1124.6 285.7,1126.4 287.5,1126.5 C289.3,1126.6 291.5,1126.2 293.8,1125.5 C296.0,1124.8 298.5,1123.2 301.2,1122.5 C304.0,1121.8 298.1,1121.5 310.0,1121.2 C321.9,1121.0 362.1,1120.8 372.5,1120.8" fill="none" stroke="#EE6677" stroke-width="1.7" stroke-opacity="0.33" stroke-linejoin="round" stroke-linecap="butt"/>
<path d="M233.0,1120.8 C234.0,1121.4 236.8,1123.0 238.8,1124.5 C240.8,1126.0 242.7,1128.2 245.0,1130.0 C247.3,1131.8 250.0,1133.7 252.5,1135.0 C255.0,1136.3 257.5,1137.2 260.0,1138.0 C262.5,1138.8 265.0,1139.7 267.5,1140.0 C270.0,1140.3 272.5,1140.2 275.0,1140.0 C277.5,1139.8 280.0,1139.4 282.5,1138.8 C285.0,1138.1 287.9,1137.3 290.0,1136.2 C292.1,1135.2 293.3,1134.0 295.0,1132.5 C296.7,1131.0 298.3,1129.0 300.0,1127.5 C301.7,1126.0 303.3,1124.6 305.0,1123.8 C306.7,1122.9 307.5,1122.7 310.0,1122.5 C312.5,1122.3 316.7,1122.6 320.0,1122.5 C323.3,1122.4 326.7,1122.0 330.0,1122.0 C333.3,1122.0 336.2,1122.2 340.0,1122.5 C343.8,1122.8 349.2,1123.8 352.5,1123.5 C355.8,1123.2 356.7,1121.5 360.0,1121.0 C363.3,1120.5 370.4,1120.8 372.5,1120.8" fill="none" stroke="#66CCEE" stroke-width="4.6" stroke-linejoin="round" stroke-linecap="butt"/>
<path d="M233.0,1122.5 C234.2,1123.8 237.6,1127.5 240.0,1130.0 C242.4,1132.5 245.0,1135.2 247.5,1137.5 C250.0,1139.8 252.5,1142.1 255.0,1143.8 C257.5,1145.4 260.0,1146.5 262.5,1147.5 C265.0,1148.5 267.5,1149.3 270.0,1149.5 C272.5,1149.7 275.0,1149.4 277.5,1148.8 C280.0,1148.1 282.5,1147.0 285.0,1145.5 C287.5,1144.0 290.2,1141.7 292.5,1139.5 C294.8,1137.3 296.9,1134.6 298.8,1132.5 C300.6,1130.4 302.1,1128.5 303.8,1127.0 C305.4,1125.5 306.5,1124.5 308.8,1123.8 C311.0,1123.0 314.0,1122.8 317.5,1122.5 C321.0,1122.2 325.4,1121.9 330.0,1121.8 C334.6,1121.6 340.0,1121.5 345.0,1121.5 C350.0,1121.5 355.4,1121.1 360.0,1121.5 C364.6,1121.9 370.4,1123.4 372.5,1123.8" fill="none" stroke="#CCBB44" stroke-width="3.4" stroke-linejoin="round" stroke-linecap="butt"/>
<path d="M233.0,1120.0 C235.0,1120.5 240.9,1122.0 245.0,1123.0 C249.1,1124.0 253.3,1125.4 257.5,1126.2 C261.7,1127.1 265.8,1127.7 270.0,1128.0 C274.2,1128.3 278.8,1128.4 282.5,1128.2 C286.2,1128.1 289.6,1127.5 292.5,1127.0 C295.4,1126.5 297.5,1125.7 300.0,1125.0 C302.5,1124.3 304.2,1123.5 307.5,1123.0 C310.8,1122.5 314.6,1122.0 320.0,1121.8 C325.4,1121.5 331.2,1121.4 340.0,1121.2 C348.8,1121.1 367.1,1120.8 372.5,1120.8" fill="none" stroke="#228833" stroke-width="2.7" stroke-linejoin="round" stroke-linecap="butt"/>
<line x1="272.40" y1="1030.00" x2="272.40" y2="1107.00" stroke="#000" stroke-width="3.3" stroke-linecap="butt"/>
<circle cx="272.40" cy="1107.00" r="3.2" fill="#000"/>
<text transform="translate(298.80 1265.80) scale(0.97 1)" font-family="DejaVu Sans Condensed, DejaVu Sans, Liberation Sans, sans-serif" font-weight="bold" font-size="31.3" fill="#000" stroke="#fff" stroke-width="0.8" text-anchor="middle">a</text>
<path d="M386.2,1120.8 C392.6,1120.8 417.5,1119.3 424.5,1121.2 C431.5,1123.2 426.9,1126.9 428.0,1132.5 C429.1,1138.1 430.1,1146.7 431.2,1155.0 C432.4,1163.3 433.9,1176.4 435.0,1182.5 C436.1,1188.6 437.0,1191.5 438.0,1191.5 C439.0,1191.5 440.2,1188.6 441.2,1182.5 C442.3,1176.4 443.5,1162.5 444.5,1155.0 C445.5,1147.5 446.5,1141.7 447.5,1137.5 C448.5,1133.3 449.3,1131.7 450.8,1130.0 C452.2,1128.3 454.3,1128.3 456.2,1127.5 C458.2,1126.7 460.0,1125.9 462.5,1125.0 C465.0,1124.1 458.1,1122.7 471.2,1122.0 C484.4,1121.3 529.6,1121.0 541.2,1120.8" fill="none" stroke="#4477AA" stroke-width="1.7" stroke-opacity="0.33" stroke-linejoin="round" stroke-linecap="butt"/>
<path d="M386.2,1120.8 C392.4,1120.8 416.3,1119.9 423.0,1121.0 C429.7,1122.1 425.2,1121.8 426.2,1127.5 C427.3,1133.2 428.2,1141.2 429.5,1155.0 C430.8,1168.8 432.3,1197.1 433.8,1210.0 C435.2,1222.9 436.6,1232.5 438.0,1232.5 C439.4,1232.5 440.7,1222.9 442.0,1210.0 C443.3,1197.1 444.6,1167.9 445.8,1155.0 C446.9,1142.1 448.0,1137.5 449.0,1132.5 C450.0,1127.5 450.3,1126.0 451.5,1125.0 C452.7,1124.0 454.4,1126.3 456.2,1126.2 C458.1,1126.2 460.2,1125.2 462.5,1124.5 C464.8,1123.8 456.9,1122.6 470.0,1122.0 C483.1,1121.4 529.4,1121.0 541.2,1120.8" fill="none" stroke="#EE6677" stroke-width="1.7" stroke-opacity="0.33" stroke-linejoin="round" stroke-linecap="butt"/>
<path d="M386.2,1123.0 C388.1,1122.9 394.4,1122.1 397.5,1122.5 C400.6,1122.9 402.5,1124.2 405.0,1125.5 C407.5,1126.8 410.0,1128.5 412.5,1130.0 C415.0,1131.5 417.1,1133.2 420.0,1134.5 C422.9,1135.8 426.7,1137.2 430.0,1138.0 C433.3,1138.8 436.7,1139.5 440.0,1139.5 C443.3,1139.5 447.1,1138.8 450.0,1138.0 C452.9,1137.2 455.0,1136.3 457.5,1135.0 C460.0,1133.7 462.7,1131.7 465.0,1130.0 C467.3,1128.3 469.2,1126.2 471.2,1125.0 C473.3,1123.8 474.4,1123.0 477.5,1122.5 C480.6,1122.0 485.4,1122.0 490.0,1122.0 C494.6,1122.0 499.6,1122.2 505.0,1122.5 C510.4,1122.8 518.8,1124.0 522.5,1123.8 C526.2,1123.5 524.4,1121.5 527.5,1121.0 C530.6,1120.5 539.0,1120.8 541.2,1120.8" fill="none" stroke="#66CCEE" stroke-width="4.6" stroke-linejoin="round" stroke-linecap="butt"/>
<path d="M386.2,1121.8 C388.1,1121.8 394.6,1121.1 397.5,1121.8 C400.4,1122.4 401.7,1123.7 403.8,1125.5 C405.8,1127.3 407.7,1129.9 410.0,1132.5 C412.3,1135.1 415.0,1139.0 417.5,1141.2 C420.0,1143.5 422.5,1145.0 425.0,1146.2 C427.5,1147.5 430.0,1148.2 432.5,1148.8 C435.0,1149.3 437.5,1149.5 440.0,1149.5 C442.5,1149.5 445.0,1149.3 447.5,1148.8 C450.0,1148.2 452.7,1147.5 455.0,1146.2 C457.3,1145.0 459.2,1143.3 461.2,1141.2 C463.3,1139.2 465.4,1136.0 467.5,1133.8 C469.6,1131.5 471.7,1129.0 473.8,1127.5 C475.8,1126.0 477.3,1125.2 480.0,1124.5 C482.7,1123.8 485.8,1123.4 490.0,1123.0 C494.2,1122.6 499.2,1122.2 505.0,1122.0 C510.8,1121.8 519.0,1121.2 525.0,1121.5 C531.0,1121.8 538.5,1123.4 541.2,1123.8" fill="none" stroke="#CCBB44" stroke-width="3.4" stroke-linejoin="round" stroke-linecap="butt"/>
<path d="M386.2,1121.2 C388.1,1121.2 394.4,1120.4 397.5,1121.2 C400.6,1122.1 402.5,1124.5 405.0,1126.2 C407.5,1128.0 410.0,1130.3 412.5,1132.0 C415.0,1133.7 417.1,1134.9 420.0,1136.2 C422.9,1137.6 426.7,1139.2 430.0,1140.0 C433.3,1140.8 436.7,1141.2 440.0,1141.2 C443.3,1141.3 447.1,1141.0 450.0,1140.5 C452.9,1140.0 455.0,1139.3 457.5,1138.0 C460.0,1136.7 462.7,1134.3 465.0,1132.5 C467.3,1130.7 469.2,1128.5 471.2,1127.0 C473.3,1125.5 474.4,1124.6 477.5,1123.8 C480.6,1122.9 484.6,1122.4 490.0,1122.0 C495.4,1121.6 501.5,1121.5 510.0,1121.2 C518.5,1121.0 536.0,1120.8 541.2,1120.8" fill="none" stroke="#228833" stroke-width="2.7" stroke-linejoin="round" stroke-linecap="butt"/>
<line x1="439.10" y1="1030.00" x2="439.10" y2="1106.50" stroke="#000" stroke-width="3.3" stroke-linecap="butt"/>
<circle cx="439.10" cy="1106.50" r="3.2" fill="#000"/>
<text transform="translate(487.00 1265.60) scale(0.98 1)" font-family="DejaVu Sans Condensed, DejaVu Sans, Liberation Sans, sans-serif" font-weight="bold" font-size="32.3" fill="#000" stroke="#fff" stroke-width="0.8" text-anchor="middle">b</text>
<line x1="742.50" y1="1059.50" x2="742.50" y2="1326.40" stroke="#000" stroke-width="2.8" stroke-linecap="butt"/>
<line x1="729.20" y1="1117.50" x2="742.50" y2="1117.50" stroke="#000" stroke-width="2.8" stroke-linecap="butt"/>
<line x1="729.20" y1="1205.75" x2="742.50" y2="1205.75" stroke="#000" stroke-width="2.8" stroke-linecap="butt"/>
<line x1="729.20" y1="1293.75" x2="742.50" y2="1293.75" stroke="#000" stroke-width="2.8" stroke-linecap="butt"/>
<line x1="734.90" y1="1065.00" x2="742.50" y2="1065.00" stroke="#000" stroke-width="2.3" stroke-linecap="butt"/>
<line x1="734.90" y1="1082.50" x2="742.50" y2="1082.50" stroke="#000" stroke-width="2.3" stroke-linecap="butt"/>
<line x1="734.90" y1="1100.00" x2="742.50" y2="1100.00" stroke="#000" stroke-width="2.3" stroke-linecap="butt"/>
<line x1="734.90" y1="1135.00" x2="742.50" y2="1135.00" stroke="#000" stroke-width="2.3" stroke-linecap="butt"/>
<line x1="734.90" y1="1152.50" x2="742.50" y2="1152.50" stroke="#000" stroke-width="2.3" stroke-linecap="butt"/>
<line x1="734.90" y1="1170.50" x2="742.50" y2="1170.50" stroke="#000" stroke-width="2.3" stroke-linecap="butt"/>
<line x1="734.90" y1="1188.00" x2="742.50" y2="1188.00" stroke="#000" stroke-width="2.3" stroke-linecap="butt"/>
<line x1="734.90" y1="1223.25" x2="742.50" y2="1223.25" stroke="#000" stroke-width="2.3" stroke-linecap="butt"/>
<line x1="734.90" y1="1241.25" x2="742.50" y2="1241.25" stroke="#000" stroke-width="2.3" stroke-linecap="butt"/>
<line x1="734.90" y1="1258.75" x2="742.50" y2="1258.75" stroke="#000" stroke-width="2.3" stroke-linecap="butt"/>
<line x1="734.90" y1="1276.25" x2="742.50" y2="1276.25" stroke="#000" stroke-width="2.3" stroke-linecap="butt"/>
<line x1="734.90" y1="1311.75" x2="742.50" y2="1311.75" stroke="#000" stroke-width="2.3" stroke-linecap="butt"/>
<text x="717.40" y="1131.30" font-family="DejaVu Sans, Liberation Sans, sans-serif" font-size="36.2" fill="#000" stroke="#000" stroke-width="0.3" text-anchor="end" letter-spacing="0.3">1.00</text>
<text x="717.40" y="1219.55" font-family="DejaVu Sans, Liberation Sans, sans-serif" font-size="36.2" fill="#000" stroke="#000" stroke-width="0.3" text-anchor="end" letter-spacing="0.3">0.75</text>
<text x="717.40" y="1307.55" font-family="DejaVu Sans, Liberation Sans, sans-serif" font-size="36.2" fill="#000" stroke="#000" stroke-width="0.3" text-anchor="end" letter-spacing="0.3">0.50</text>
<line x1="742.50" y1="1325.00" x2="880.00" y2="1325.00" stroke="#000" stroke-width="2.8" stroke-linecap="butt"/>
<line x1="824.50" y1="1325.00" x2="824.50" y2="1338.30" stroke="#000" stroke-width="2.8" stroke-linecap="butt"/>
<line x1="762.50" y1="1325.00" x2="762.50" y2="1332.60" stroke="#000" stroke-width="2.3" stroke-linecap="butt"/>
<line x1="793.25" y1="1325.00" x2="793.25" y2="1332.60" stroke="#000" stroke-width="2.3" stroke-linecap="butt"/>
<line x1="855.50" y1="1325.00" x2="855.50" y2="1332.60" stroke="#000" stroke-width="2.3" stroke-linecap="butt"/>
<text x="824.80" y="1377.80" font-family="DejaVu Sans, Liberation Sans, sans-serif" font-size="36.2" fill="#000" stroke="#000" stroke-width="0.3" text-anchor="middle" letter-spacing="0.3">4566</text>
<line x1="903.00" y1="1325.00" x2="1037.50" y2="1325.00" stroke="#000" stroke-width="2.8" stroke-linecap="butt"/>
<line x1="981.25" y1="1325.00" x2="981.25" y2="1338.30" stroke="#000" stroke-width="2.8" stroke-linecap="butt"/>
<line x1="919.50" y1="1325.00" x2="919.50" y2="1332.60" stroke="#000" stroke-width="2.3" stroke-linecap="butt"/>
<line x1="950.50" y1="1325.00" x2="950.50" y2="1332.60" stroke="#000" stroke-width="2.3" stroke-linecap="butt"/>
<line x1="1012.00" y1="1325.00" x2="1012.00" y2="1332.60" stroke="#000" stroke-width="2.3" stroke-linecap="butt"/>
<text x="981.55" y="1377.80" font-family="DejaVu Sans, Liberation Sans, sans-serif" font-size="36.2" fill="#000" stroke="#000" stroke-width="0.3" text-anchor="middle" letter-spacing="0.3">4566</text>
<path d="M746.2,1118.0 C752.0,1118.0 774.3,1116.7 780.5,1118.2 C786.7,1119.8 782.5,1121.4 783.5,1127.5 C784.5,1133.6 785.4,1145.4 786.5,1155.0 C787.6,1164.6 788.9,1178.1 790.0,1185.0 C791.1,1191.9 792.2,1196.5 793.2,1196.5 C794.3,1196.5 795.4,1191.9 796.5,1185.0 C797.6,1178.1 798.9,1164.6 800.0,1155.0 C801.1,1145.4 802.0,1133.4 803.0,1127.5 C804.0,1121.6 804.9,1121.2 806.2,1119.5 C807.6,1117.8 799.0,1117.9 811.2,1117.5 C823.5,1117.1 868.5,1117.1 880.0,1117.0" fill="none" stroke="#4477AA" stroke-width="1.7" stroke-opacity="0.33" stroke-linejoin="round" stroke-linecap="butt"/>
<path d="M746.2,1118.0 C751.5,1118.0 772.2,1117.1 778.0,1118.2 C783.8,1119.4 780.2,1117.6 781.2,1125.0 C782.3,1132.4 783.2,1143.8 784.5,1162.5 C785.8,1181.2 787.3,1218.1 788.8,1237.5 C790.2,1256.9 791.8,1279.0 793.2,1279.0 C794.8,1279.0 796.3,1256.9 797.8,1237.5 C799.2,1218.1 800.8,1181.2 802.0,1162.5 C803.2,1143.8 804.0,1132.3 805.0,1125.0 C806.0,1117.7 806.5,1120.0 808.0,1118.8 C809.5,1117.5 801.8,1117.8 813.8,1117.5 C825.8,1117.2 869.0,1117.1 880.0,1117.0" fill="none" stroke="#EE6677" stroke-width="1.7" stroke-opacity="0.33" stroke-linejoin="round" stroke-linecap="butt"/>
<path d="M746.2,1120.0 C747.7,1120.2 752.5,1120.0 755.0,1121.2 C757.5,1122.5 759.2,1125.2 761.2,1127.5 C763.3,1129.8 765.4,1132.5 767.5,1135.0 C769.6,1137.5 771.5,1140.4 773.8,1142.5 C776.0,1144.6 778.8,1146.3 781.2,1147.5 C783.8,1148.7 786.5,1149.1 788.8,1149.5 C791.0,1149.9 792.7,1150.1 795.0,1150.0 C797.3,1149.9 800.0,1149.6 802.5,1148.8 C805.0,1147.9 807.7,1146.9 810.0,1145.0 C812.3,1143.1 814.4,1140.2 816.2,1137.5 C818.1,1134.8 819.6,1131.3 821.2,1128.8 C822.9,1126.2 824.6,1123.6 826.2,1122.0 C827.9,1120.4 829.0,1119.7 831.2,1119.2 C833.5,1118.8 835.2,1119.2 840.0,1119.2 C844.8,1119.3 853.3,1119.7 860.0,1119.8 C866.7,1119.8 876.7,1119.8 880.0,1119.8" fill="none" stroke="#66CCEE" stroke-width="5.0" stroke-linejoin="round" stroke-linecap="butt"/>
<path d="M746.2,1118.8 C748.1,1119.0 754.0,1119.0 757.5,1120.0 C761.0,1121.0 764.2,1123.3 767.5,1124.5 C770.8,1125.7 774.2,1126.4 777.5,1127.0 C780.8,1127.6 784.6,1128.0 787.5,1128.2 C790.4,1128.5 792.1,1128.5 795.0,1128.2 C797.9,1128.0 801.7,1127.8 805.0,1127.0 C808.3,1126.2 811.7,1125.0 815.0,1123.8 C818.3,1122.5 822.1,1120.5 825.0,1119.5 C827.9,1118.5 823.3,1117.9 832.5,1117.5 C841.7,1117.1 872.1,1117.1 880.0,1117.0" fill="none" stroke="#228833" stroke-width="2.7" stroke-linejoin="round" stroke-linecap="butt"/>
<path d="M746.2,1118.8 C747.7,1119.0 752.7,1119.0 755.0,1120.0 C757.3,1121.0 758.1,1122.3 760.0,1125.0 C761.9,1127.7 764.2,1132.5 766.2,1136.2 C768.3,1140.0 770.2,1144.2 772.5,1147.5 C774.8,1150.8 777.5,1154.1 780.0,1156.2 C782.5,1158.4 785.2,1159.6 787.5,1160.5 C789.8,1161.4 791.7,1161.8 793.8,1161.8 C795.8,1161.8 797.7,1161.4 800.0,1160.5 C802.3,1159.6 805.0,1158.6 807.5,1156.2 C810.0,1153.9 812.7,1150.0 815.0,1146.2 C817.3,1142.5 819.4,1137.5 821.2,1133.8 C823.1,1130.0 824.6,1126.2 826.2,1123.8 C827.9,1121.2 829.0,1119.8 831.2,1118.8 C833.5,1117.7 831.9,1117.7 840.0,1117.5 C848.1,1117.3 873.3,1117.5 880.0,1117.5" fill="none" stroke="#CCBB44" stroke-width="3.4" stroke-linejoin="round" stroke-linecap="butt"/>
<line x1="791.75" y1="1020.00" x2="791.75" y2="1096.75" stroke="#000" stroke-width="3.3" stroke-linecap="butt"/>
<circle cx="791.75" cy="1096.75" r="3.2" fill="#000"/>
<text transform="translate(814.50 1265.60) scale(0.97 1)" font-family="DejaVu Sans Condensed, DejaVu Sans, Liberation Sans, sans-serif" font-weight="bold" font-size="31.3" fill="#000" stroke="#fff" stroke-width="0.8" text-anchor="middle">a</text>
<path d="M903.0,1117.5 C908.7,1117.6 930.8,1116.2 937.0,1118.2 C943.2,1120.3 939.0,1122.6 940.0,1130.0 C941.0,1137.4 942.1,1148.8 943.2,1162.5 C944.4,1176.2 945.8,1200.3 947.0,1212.5 C948.2,1224.7 949.3,1235.8 950.5,1235.8 C951.7,1235.8 952.8,1224.7 954.0,1212.5 C955.2,1200.3 956.6,1176.2 957.8,1162.5 C958.9,1148.8 960.0,1137.0 961.0,1130.0 C962.0,1123.0 962.5,1122.7 964.0,1120.5 C965.5,1118.3 959.2,1117.7 970.0,1117.0 C980.8,1116.3 1019.0,1116.6 1028.8,1116.5" fill="none" stroke="#4477AA" stroke-width="1.7" stroke-opacity="0.33" stroke-linejoin="round" stroke-linecap="butt"/>
<path d="M903.0,1117.5 C908.4,1117.6 929.6,1116.8 935.5,1118.0 C941.4,1119.2 937.5,1117.6 938.5,1125.0 C939.5,1132.4 940.5,1143.8 941.8,1162.5 C943.0,1181.2 944.8,1218.2 946.2,1237.5 C947.7,1256.8 949.1,1278.2 950.5,1278.2 C951.9,1278.2 953.3,1256.8 954.8,1237.5 C956.2,1218.2 958.0,1181.2 959.2,1162.5 C960.5,1143.8 961.5,1132.3 962.5,1125.0 C963.5,1117.7 963.8,1120.1 965.5,1118.8 C967.2,1117.4 962.0,1117.4 972.5,1117.0 C983.0,1116.6 1019.4,1116.6 1028.8,1116.5" fill="none" stroke="#EE6677" stroke-width="1.7" stroke-opacity="0.33" stroke-linejoin="round" stroke-linecap="butt"/>
<path d="M903.0,1119.2 C904.6,1119.5 909.9,1119.8 912.5,1120.8 C915.1,1121.7 916.7,1123.0 918.8,1125.0 C920.8,1127.0 922.7,1129.8 925.0,1132.5 C927.3,1135.2 929.8,1138.8 932.5,1141.2 C935.2,1143.8 938.1,1146.2 941.2,1147.5 C944.4,1148.8 948.1,1149.2 951.2,1149.2 C954.4,1149.3 957.1,1149.1 960.0,1148.0 C962.9,1146.9 966.0,1144.9 968.8,1142.5 C971.5,1140.1 974.0,1136.7 976.2,1133.8 C978.5,1130.8 980.6,1127.2 982.5,1125.0 C984.4,1122.8 985.4,1121.5 987.5,1120.5 C989.6,1119.5 991.2,1119.4 995.0,1119.2 C998.8,1119.1 1004.4,1119.7 1010.0,1119.8 C1015.6,1119.8 1025.6,1119.8 1028.8,1119.8" fill="none" stroke="#66CCEE" stroke-width="5.0" stroke-linejoin="round" stroke-linecap="butt"/>
<path d="M903.0,1118.8 C904.6,1119.0 909.9,1119.0 912.5,1120.0 C915.1,1121.0 916.7,1122.7 918.8,1125.0 C920.8,1127.3 922.7,1131.0 925.0,1133.8 C927.3,1136.5 929.8,1139.2 932.5,1141.2 C935.2,1143.3 938.1,1145.1 941.2,1146.2 C944.4,1147.4 948.1,1148.0 951.2,1148.0 C954.4,1148.0 957.1,1147.4 960.0,1146.2 C962.9,1145.1 966.0,1143.5 968.8,1141.2 C971.5,1139.0 974.0,1135.4 976.2,1132.5 C978.5,1129.6 980.6,1126.0 982.5,1123.8 C984.4,1121.5 985.4,1119.9 987.5,1118.8 C989.6,1117.6 988.1,1117.4 995.0,1117.0 C1001.9,1116.6 1023.1,1116.6 1028.8,1116.5" fill="none" stroke="#228833" stroke-width="2.7" stroke-linejoin="round" stroke-linecap="butt"/>
<path d="M903.0,1118.0 C904.6,1118.2 910.1,1118.5 912.5,1119.5 C914.9,1120.5 915.6,1121.2 917.5,1123.8 C919.4,1126.3 921.7,1131.2 923.8,1135.0 C925.8,1138.8 927.7,1142.9 930.0,1146.2 C932.3,1149.6 935.0,1152.8 937.5,1155.0 C940.0,1157.2 942.7,1158.5 945.0,1159.5 C947.3,1160.5 949.2,1160.8 951.2,1160.8 C953.3,1160.8 955.2,1160.5 957.5,1159.5 C959.8,1158.5 962.5,1157.2 965.0,1155.0 C967.5,1152.8 970.2,1149.8 972.5,1146.2 C974.8,1142.7 976.9,1137.5 978.8,1133.8 C980.6,1130.0 982.1,1126.2 983.8,1123.8 C985.4,1121.2 986.9,1119.9 988.8,1118.8 C990.6,1117.6 988.3,1117.3 995.0,1117.0 C1001.7,1116.7 1023.1,1117.0 1028.8,1117.0" fill="none" stroke="#CCBB44" stroke-width="3.4" stroke-linejoin="round" stroke-linecap="butt"/>
<line x1="949.00" y1="1019.00" x2="949.00" y2="1095.75" stroke="#000" stroke-width="3.3" stroke-linecap="butt"/>
<circle cx="949.00" cy="1095.75" r="3.2" fill="#000"/>
<text transform="translate(1002.80 1265.60) scale(0.98 1)" font-family="DejaVu Sans Condensed, DejaVu Sans, Liberation Sans, sans-serif" font-weight="bold" font-size="32.3" fill="#000" stroke="#fff" stroke-width="0.8" text-anchor="middle">b</text>
<text x="763.30 784.72 808.45 832.77 855.30 865.95 890.17 912.30 922.55 951.70 966.65 978.10 989.10" y="394.80" font-family="DejaVu Sans, Liberation Sans, sans-serif" font-size="37.6" fill="#000" stroke="#000" stroke-width="0.3" transform="rotate(-90 763.30 394.80)">3173.56 Cr II</text>
<text x="963.30 984.72 1008.45 1032.77 1055.30 1065.95 1090.17 1112.30 1122.55 1151.70 1166.65 1178.10 1189.10" y="392.00" font-family="DejaVu Sans, Liberation Sans, sans-serif" font-size="37.6" fill="#000" stroke="#000" stroke-width="0.3" transform="rotate(-90 963.30 392.00)">3173.56 Cr II</text>
<text x="283.90 306.35 328.80 352.06 373.60 382.40 409.85 430.90 440.18 469.06 484.55 496.03 507.26" y="1019.80" font-family="DejaVu Sans, Liberation Sans, sans-serif" font-size="37.6" fill="#000" stroke="#000" stroke-width="0.3" transform="rotate(-90 283.10 1019.80)">4539.59 Cr II</text>
<text x="450.00 472.45 494.90 518.16 539.70 548.50 575.95 597.00 606.28 635.16 650.65 662.13 673.36" y="1018.80" font-family="DejaVu Sans, Liberation Sans, sans-serif" font-size="37.6" fill="#000" stroke="#000" stroke-width="0.3" transform="rotate(-90 449.20 1018.80)">4539.59 Cr II</text>
<text x="802.20 825.54 848.87 870.50 893.85 905.22 929.45 951.08 960.75 988.92 1004.48 1016.05 1027.36" y="1010.80" font-family="DejaVu Sans, Liberation Sans, sans-serif" font-size="37.6" fill="#000" stroke="#000" stroke-width="0.3" transform="rotate(-90 802.20 1010.80)">4565.74 Cr II</text>
<text x="959.90 983.24 1006.57 1028.20 1051.55 1062.92 1087.15 1108.78 1118.45 1146.62 1162.18 1173.75 1185.06" y="1009.80" font-family="DejaVu Sans, Liberation Sans, sans-serif" font-size="37.6" fill="#000" stroke="#000" stroke-width="0.3" transform="rotate(-90 959.90 1009.80)">4565.74 Cr II</text>
</svg>
</body></html>
